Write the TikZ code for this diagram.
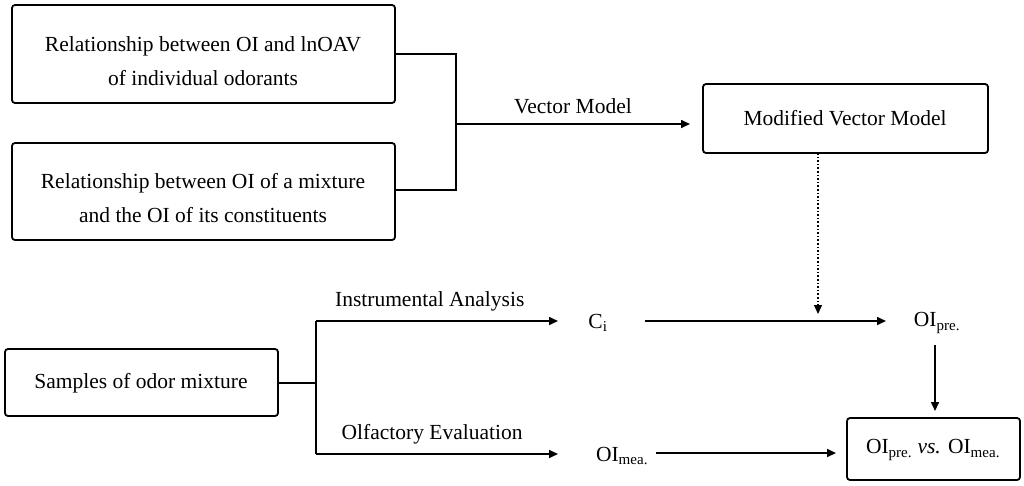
\documentclass[tikz,border=0pt]{standalone}
\usepackage{fontspec}
\setmainfont{Liberation Serif}
\usetikzlibrary{arrows.meta}
\begin{document}
\begin{tikzpicture}[x=1pt,y=-1pt,
  box/.style={draw,line width=1.8pt,rounded corners=3pt},
  ln/.style={line width=1.6pt},
  arr/.style={ln,-{Triangle[length=9pt,width=8pt]}},
  txt/.style={font=\fontsize{21.5}{33.5}\selectfont,align=center,inner sep=0pt}]
\useasboundingbox (0,0) rectangle (1024,485);
\draw[box] (12,5) rectangle (395,103);
\node[txt] (t1) at (203,61) {Relationship between OI and lnOAV\\of individual odorants};
\draw[box] (12,143) rectangle (395,240);
\node[txt] (t2) at (203,198) {Relationship between OI of a mixture\\and the OI of its constituents};
\coordinate (b1) at (395,54);
\coordinate (b2) at (395,190);
\coordinate (j) at (456,124);
\draw[ln] (b1) -- (456,54) -- (456,190) -- (b2);
\draw[box] (703,84) rectangle (988,153);
\node[txt] (mvm) at (845,118) {Modified Vector Model};
\coordinate (mvmin) at (690,124);
\draw[arr] (j) -- node[txt,above=9pt] (vm) {Vector Model} (mvmin);
\coordinate (d1) at (818,153);
\coordinate (d2) at (818,314);
\draw[arr,dotted,line width=1.4pt] (d1) -- (d2);
\draw[box] (5,349) rectangle (278,416);
\node[txt] (s) at (141,383) {Samples of odor mixture};
\coordinate (s1) at (278,383);
\coordinate (s2) at (316,383);
\coordinate (u) at (316,321);
\coordinate (l) at (316,454);
\draw[ln] (s1) -- (s2);
\draw[ln] (u) -- (l);
\node[txt] (ci) at (598,323) {C\textsubscript{i}};
\node[txt] (oip) at (937,323) {OI\textsubscript{pre.}};
\node[txt] (oim) at (622,456) {OI\textsubscript{mea.}};
\draw[box] (847,418) rectangle (1020,480);
\node[txt] (vs) at (933,450) {OI\textsubscript{pre.} \textit{vs.} OI\textsubscript{mea.}};
\coordinate (ua) at (558,321);
\coordinate (la) at (558,454);
\draw[arr] (u) -- node[txt,above=9pt,pos=0.47] (ia) {Instrumental Analysis} (ua);
\draw[arr] (l) -- node[txt,above=9pt,pos=0.48] (oe) {Olfactory Evaluation} (la);
\coordinate (c1) at (645,321);
\coordinate (c2) at (886,321);
\draw[arr] (c1) -- (c2);
\coordinate (p1) at (935,345);
\coordinate (p2) at (935,411);
\draw[arr] (p1) -- (p2);
\coordinate (m1) at (656,453);
\coordinate (m2) at (836,453);
\draw[arr] (m1) -- (m2);
\end{tikzpicture}
\end{document}
